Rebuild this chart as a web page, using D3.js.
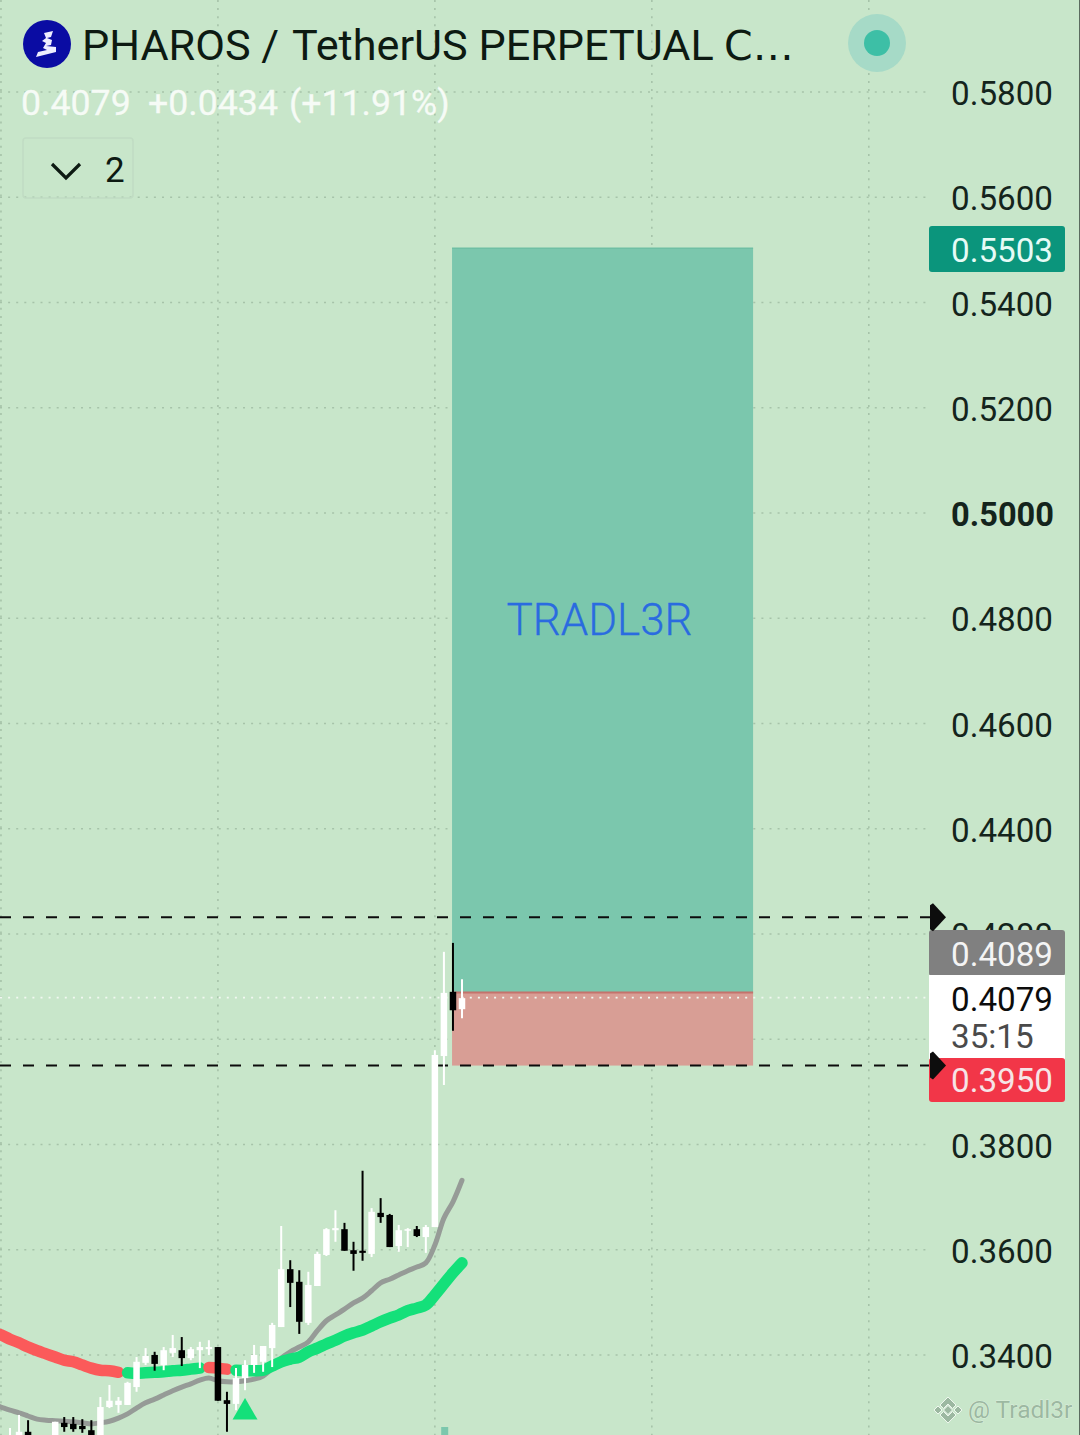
<!DOCTYPE html>
<html><head><meta charset="utf-8">
<script src="https://cdn.jsdelivr.net/npm/d3@7/dist/d3.min.js"></script>
<style>
html,body{margin:0;padding:0;background:#c8e6ca;overflow:hidden}
svg{display:block}
text{font-family:Roboto,sans-serif}
</style></head><body>
<svg id="c" width="1080" height="1435"></svg>
<script>
// price axis
const priceTicks=[0.58,0.56,0.54,0.52,0.50,0.48,0.46,0.44,0.42,0.40,0.38,0.36,0.34];
const titleParts=["PHAROS / ","TetherUS PERPETUAL ","C…"];
const statusLast="0.4079", statusChange="+0.0434", statusPct="(+11.91%)";
const indicatorCount="2";
const countdown="35:15";
const projectLabel="TRADL3R";
const watermark="@ Tradl3r";

// position tool
const targetPrice=0.5503, entryPrice=0.4089, stopPrice=0.3950, upperDashPrice=0.4232, lastPrice=0.4079;
const toolStart=48.9, toolEnd=82.2;

// candles, index 0..50
const candleOpen=[.3210,.3220,.3256,.3200,.3225,.3210,.3273,.3271,.3267,.3259,.3225,.3303,.3307,.3307,.3341,.3387,.3402,.3383,.3406,.3411,.3396,.3411,.3413,.3417,.3316,.3309,.3358,.3383,.3389,.3415,.3455,.3565,.3541,.3463,.3533,.3592,.3639,.3641,.3601,.3600,.3594,.3672,.3668,.3609,.3638,.3641,.3626,.3645,.3970,.4092,.4059];
const candleHigh=[.3263,.3288,.3278,.3232,.3230,.3275,.3284,.3284,.3280,.3278,.3322,.3345,.3322,.3351,.3398,.3415,.3408,.3417,.3440,.3436,.3417,.3427,.3430,.3417,.3332,.3377,.3392,.3421,.3419,.3463,.3647,.3582,.3563,.3560,.3598,.3643,.3677,.3653,.3617,.3752,.3681,.3700,.3670,.3649,.3643,.3647,.3649,.3981,.4168,.4185,.4116];
const candleLow=[.3200,.3210,.3220,.3190,.3190,.3205,.3256,.3256,.3254,.3235,.3215,.3301,.3292,.3307,.3332,.3383,.3372,.3373,.3398,.3381,.3392,.3377,.3402,.3315,.3256,.3297,.3335,.3368,.3370,.3379,.3455,.3493,.3442,.3459,.3533,.3590,.3617,.3600,.3562,.3581,.3588,.3653,.3607,.3598,.3607,.3626,.3596,.3645,.3915,.4018,.4042];
const candleClose=[.3240,.3256,.3230,.3225,.3200,.3275,.3265,.3261,.3261,.3246,.3303,.3315,.3315,.3349,.3389,.3400,.3385,.3411,.3415,.3396,.3413,.3417,.3417,.3315,.3309,.3358,.3383,.3402,.3419,.3459,.3565,.3539,.3465,.3535,.3594,.3641,.3643,.3600,.3594,.3596,.3674,.3664,.3607,.3639,.3641,.3628,.3645,.3972,.4090,.4057,.4080];

// indicator lines, first value is index -2
const trendValues=[.3446,.3440,.3432,.3425,.3417,.3410,.3404,.3398,.3392,.3389,.3383,.3377,.3373,.3372,.3369,.3368,.3367,.3368,.3369,.3370,.3372,.3373,.3375,.3377,.3378,.3377,.3375,.3373,.3372,.3372,.3373,.3381,.3389,.3394,.3398,.3408,.3415,.3423,.3430,.3438,.3444,.3449,.3457,.3465,.3472,.3478,.3486,.3491,.3497,.3516,.3537,.3558,.3577];
const grayValues=[.3309,.3303,.3297,.3292,.3286,.3280,.3278,.3277,.3276,.3275,.3273,.3271,.3273,.3276,.3282,.3290,.3301,.3311,.3318,.3326,.3334,.3341,.3347,.3354,.3358,.3353,.3351,.3351,.3353,.3356,.3362,.3377,.3396,.3408,.3417,.3427,.3448,.3467,.3478,.3489,.3501,.3510,.3524,.3539,.3546,.3554,.3562,.3569,.3577,.3611,.3662,.3693,.3734];
const trendRuns=[{from:-2,to:12,color:"#fb5a5a"},{from:13,to:21,color:"#14e07a"},{from:22,to:24,color:"#fb5a5a"},{from:25,to:50,color:"#14e07a"}];
const signalIndex=26, signalPrice=0.3293;
const gridIndices=[-1,23,47,71,95];
const volumeStubIndex=47.7;

const W=1080,H=1435;
const x=d3.scaleLinear().domain([0,50]).range([10,462]);
const y=d3.scaleLinear().domain([0.34,0.58]).range([1355,92]);
const svg=d3.select("#c");
const grid="#a6c3a9";

// grid
svg.append("g").selectAll("line").data(priceTicks).join("line")
 .attr("x1",0).attr("x2",926).attr("y1",d=>y(d)).attr("y2",d=>y(d))
 .attr("stroke",grid).attr("stroke-width",1.6).attr("stroke-dasharray","2 6.1");
svg.append("g").selectAll("line").data(gridIndices).join("line")
 .attr("x1",d=>x(d)).attr("x2",d=>x(d)).attr("y1",0).attr("y2",H)
 .attr("stroke",grid).attr("stroke-width",1.6).attr("stroke-dasharray","2 6.1");

// position tool
svg.append("rect").attr("x",x(toolStart)).attr("width",x(toolEnd)-x(toolStart))
 .attr("y",y(targetPrice)).attr("height",y(entryPrice)-y(targetPrice)).attr("fill","#7bc7ad");
svg.append("rect").attr("x",x(toolStart)).attr("width",x(toolEnd)-x(toolStart))
 .attr("y",y(entryPrice)).attr("height",y(stopPrice)-y(entryPrice)).attr("fill","#d89e95");
svg.append("line").attr("x1",x(toolStart)).attr("x2",x(toolEnd)).attr("y1",y(entryPrice)).attr("y2",y(entryPrice))
 .attr("stroke","#c4736c").attr("stroke-width",2);
svg.append("line").attr("x1",x(toolStart)).attr("x2",x(toolEnd)).attr("y1",y(targetPrice)).attr("y2",y(targetPrice))
 .attr("stroke","#6fbfa4").attr("stroke-width",1.5);
svg.append("text").attr("x",599.5).attr("y",635).attr("text-anchor","middle")
 .attr("font-size",44).attr("font-weight",300).attr("stroke","#2a6be0").attr("stroke-width",0.3).attr("fill","#2a6be0").text(projectLabel);

// last price line
svg.append("line").attr("x1",0).attr("x2",926).attr("y1",y(lastPrice)).attr("y2",y(lastPrice))
 .attr("stroke","#f1f8f1").attr("stroke-width",1.8).attr("stroke-dasharray","2 6.1");

// dashed levels
[upperDashPrice,stopPrice].forEach(p=>{
 svg.append("line").attr("x1",0).attr("x2",930).attr("y1",y(p)).attr("y2",y(p))
  .attr("stroke","#0c0c0c").attr("stroke-width",2).attr("stroke-dasharray","11 12");
});

// indicator lines and candles share one layer
const layer=svg.append("g").attr("transform","translate(0,1)");
const line=d3.line().x(d=>x(d.i)).y(d=>y(d.v)).curve(d3.curveCatmullRom.alpha(0.5));
const grayPts=grayValues.map((v,i)=>({i:i-2,v}));
const trendPts=trendValues.map((v,i)=>({i:i-2,v}));
const drawLine=(pts,color,w)=>layer.append("path").attr("d",line(pts)).attr("fill","none")
  .attr("stroke",color).attr("stroke-width",w).attr("stroke-linecap","round").attr("stroke-linejoin","round");
drawLine(grayPts,"#969b97",5);
trendRuns.forEach(r=>drawLine(trendPts.filter(p=>p.i>=r.from&&p.i<=r.to),r.color,11.5));

const candles=candleOpen.map((o,i)=>({i,o,h:candleHigh[i],l:candleLow[i],c:candleClose[i]}));
const colour=d=>d.c>=d.o?"#ffffff":"#000000";
const g=layer.append("g");
g.selectAll("line").data(candles).join("line")
 .attr("x1",d=>x(d.i)).attr("x2",d=>x(d.i)).attr("y1",d=>y(d.h)).attr("y2",d=>y(d.l))
 .attr("stroke",colour).attr("stroke-width",2);
g.selectAll("rect").data(candles).join("rect")
 .attr("x",d=>x(d.i)-3.25).attr("width",6.5)
 .attr("y",d=>y(Math.max(d.o,d.c))).attr("height",d=>Math.max(1.5,Math.abs(y(d.o)-y(d.c))))
 .attr("fill",colour);

// signal triangle
layer.append("path").attr("transform",`translate(${x(signalIndex)},${y(signalPrice)})`)
 .attr("d",d3.symbol().type(d3.symbolTriangle).size(270)()).attr("fill","#14e07a");
// volume stub
svg.append("rect").attr("x",x(volumeStubIndex)).attr("y",1427).attr("width",7).attr("height",8).attr("fill","#7cc7ad");

// y axis
const axis=d3.axisRight(y).tickValues(priceTicks).tickFormat(d3.format(".4f")).tickSize(0).tickPadding(0);
const ag=svg.append("g").attr("transform","translate(1053,0)").call(axis);
ag.select(".domain").remove();
ag.selectAll("text").attr("text-anchor","end").attr("x",d=>d===0.5?1:0).attr("y",2).attr("font-size",d=>d===0.5?32.6:33.2).attr("fill","#14241c")
 .attr("font-family","Roboto,sans-serif").attr("font-weight",d=>d===0.5?700:400);

// price tags
function tag(yTop,h,color,rx){
 return svg.append("rect").attr("x",929).attr("y",yTop).attr("width",136).attr("height",h).attr("fill",color).attr("rx",rx||0);
}
const tagText=(s,yb,c)=>svg.append("text").attr("x",1053).attr("y",yb).attr("text-anchor","end")
 .attr("font-size",33.2).attr("fill",c).text(s);
tag(226,46,"#0b957c",3); tagText(d3.format(".4f")(targetPrice),262,"#e6fbf6");
tag(930,46,"#808080",3); tagText(d3.format(".4f")(entryPrice),966,"#f4f4f4");
tag(975,84,"#ffffff",0);
tagText(d3.format(".4f")(lastPrice),1011,"#0c0c0c");
svg.append("text").attr("x",951).attr("y",1048).attr("font-size",33.2).attr("fill","#4a4a4a").text(countdown);
tag(1058,44,"#f23648",3); tagText(d3.format(".4f")(stopPrice),1092,"#f6e4e6");

// level arrows
[upperDashPrice,stopPrice].forEach(p=>{
 const c=y(p);
 svg.append("path").attr("d",`M930,${c-12}L933,${c-14}L946,${c}L933,${c+14}L930,${c+12}Z`).attr("fill","#0d0d0d");
});

// header
svg.append("circle").attr("cx",47).attr("cy",44).attr("r",24).attr("fill","#0a0ca3");
svg.append("path").attr("d","M44,33L53,31L51,37L47,38L52,40L51,45L46,46L56,47L56,52L36,57L38,52L47,50L43,48L46,43L42,41L46,38Z").attr("fill","#eef");
const title=svg.append("text").attr("y",60).attr("font-size",43.2).attr("fill","#0d1a12").attr("xml:space","preserve");
title.append("tspan").attr("x",82).text(titleParts[0]);
title.append("tspan").attr("x",292).text(titleParts[1]);
title.append("tspan").attr("x",724).attr("font-family","'DejaVu Sans'").attr("font-size",41).text(titleParts[2]);
const status=[[21,statusLast],[148,statusChange],[289,statusPct]];
svg.append("g").selectAll("text").data(status).join("text").attr("x",d=>d[0]).attr("y",115)
 .attr("font-size",35.7).attr("fill","#f6fbf6").attr("stroke","#f6fbf6").attr("stroke-width",0.3).text(d=>d[1]);
svg.append("rect").attr("x",23).attr("y",138).attr("width",110).attr("height",60).attr("rx",3)
 .attr("fill","none").attr("stroke","#c0dcc3").attr("stroke-width",1.5);
svg.append("path").attr("d","M52,164L66,178L80,164").attr("fill","none").attr("stroke","#0d1a12").attr("stroke-width",3.2);
svg.append("text").attr("x",105).attr("y",182).attr("font-size",35).attr("fill","#0d1a12").text(indicatorCount);
svg.append("circle").attr("cx",877).attr("cy",43).attr("r",29).attr("fill","#a6dac7");
svg.append("circle").attr("cx",877).attr("cy",43).attr("r",13).attr("fill","#3dbfa6");

// watermark
svg.append("path").attr("fill","#9cb8a1").attr("stroke","#eef7ee").attr("stroke-width",1)
 .attr("d","M948,1397L956,1405L952.5,1408.5L948,1404L943.5,1408.5L940,1405ZM934,1410L938,1406L942,1410L938,1414ZM954,1410L958,1406L962,1410L958,1414ZM948,1405.5L952.5,1410L948,1414.5L943.5,1410ZM940,1415L943.5,1411.5L948,1416L952.5,1411.5L956,1415L948,1423Z");
svg.append("text").attr("x",968).attr("y",1418).attr("font-size",24.5).attr("fill","#9cb8a1")
 .attr("stroke","#eef7ee").attr("stroke-width",0.5).attr("paint-order","stroke").text(watermark);

// screen edge
svg.append("rect").attr("x",1079).attr("y",0).attr("width",1).attr("height",H).attr("fill","#5b6b5f");
</script>
</body></html>
